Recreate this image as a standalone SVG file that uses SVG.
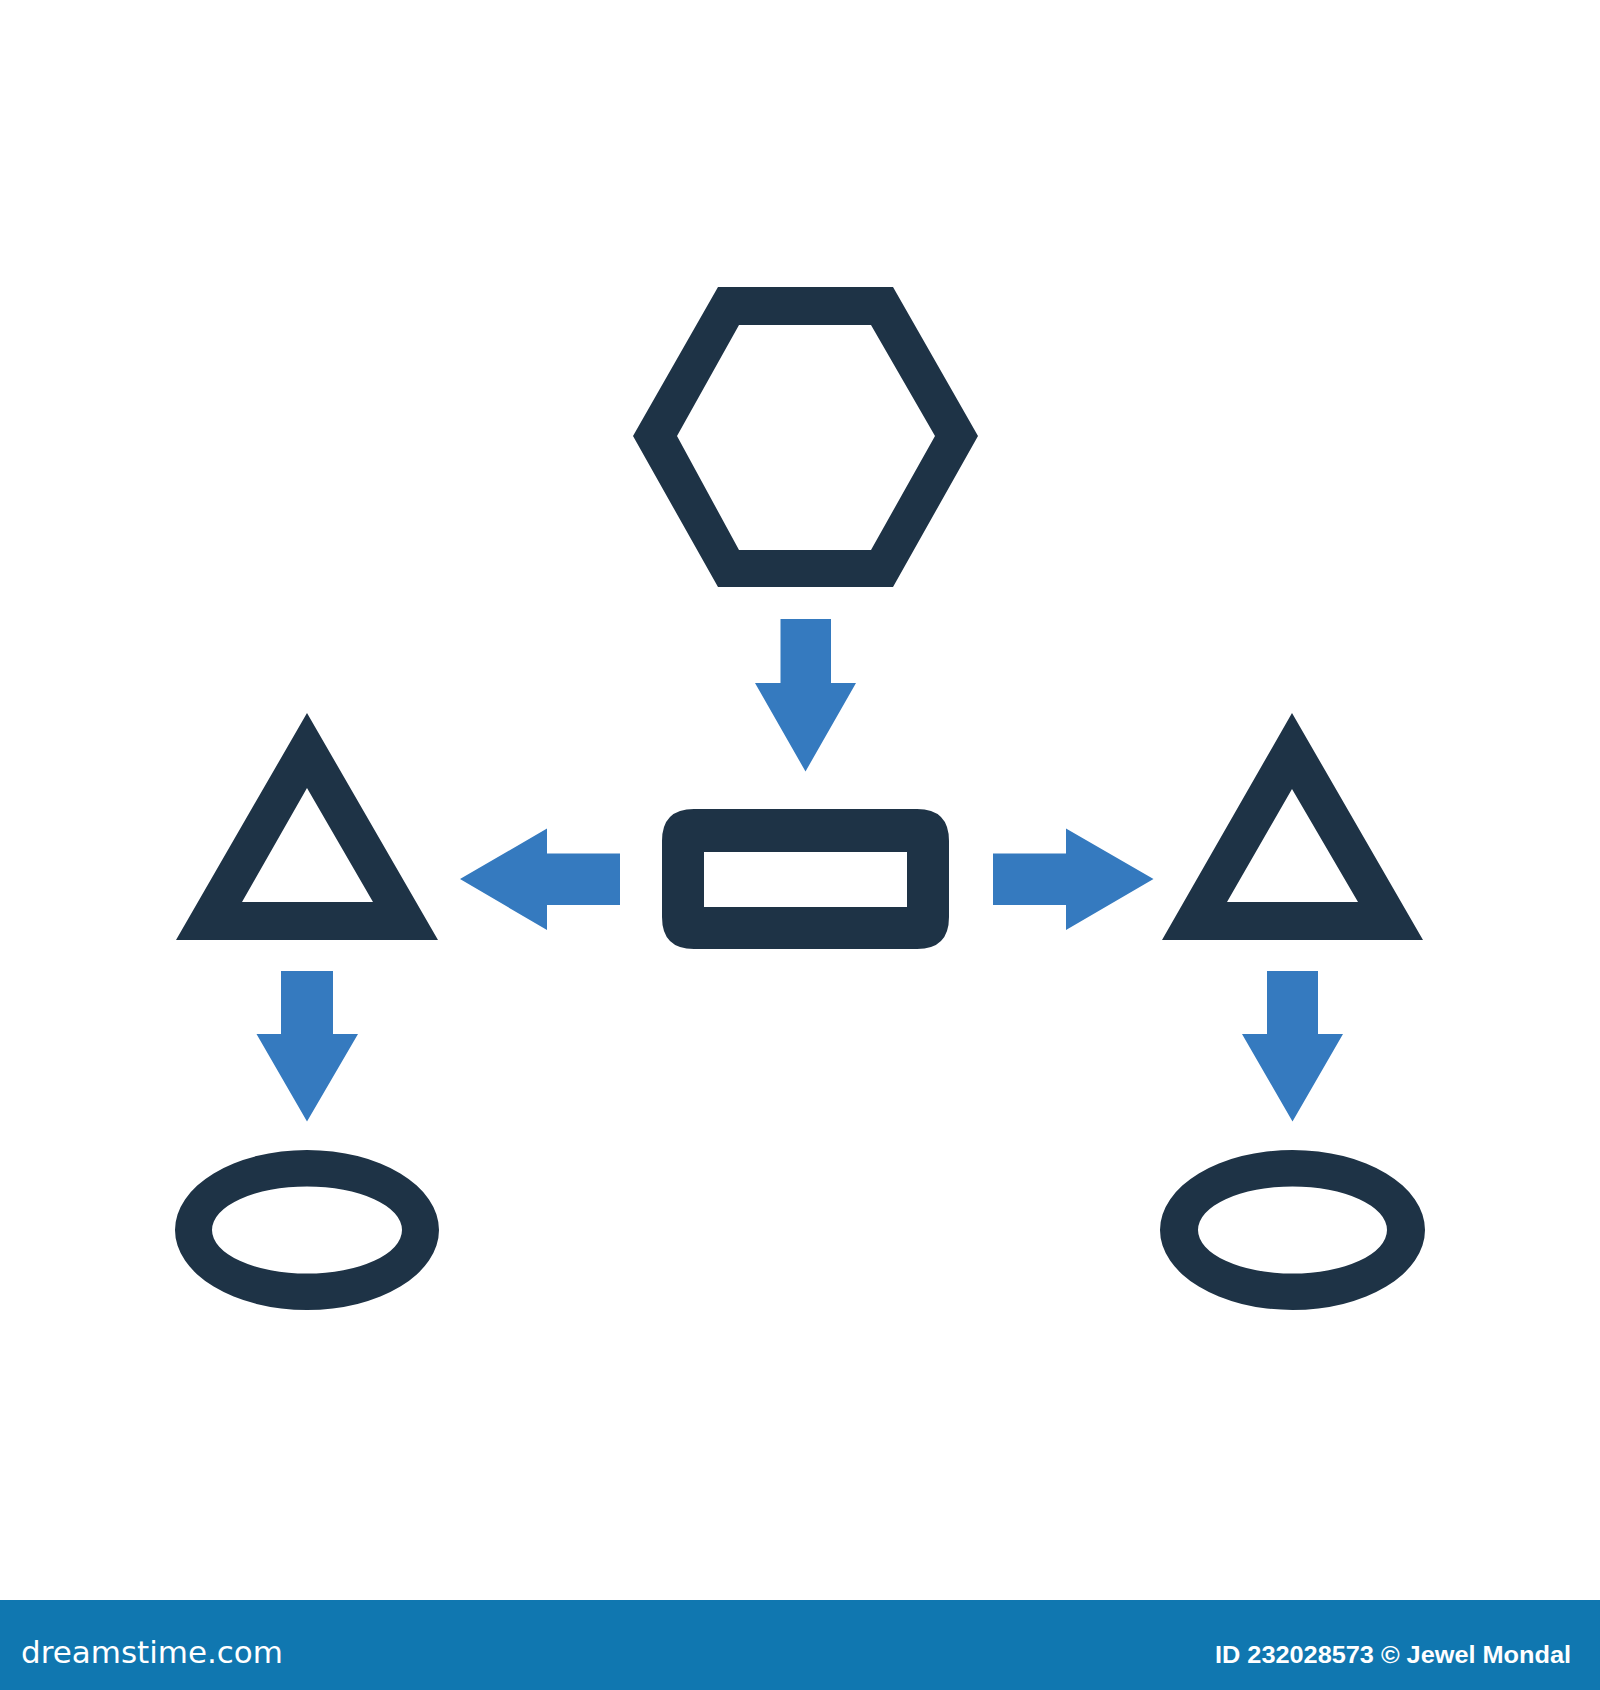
<svg xmlns="http://www.w3.org/2000/svg" width="1600" height="1690" viewBox="0 0 1600 1690">
<style>
.shape{fill:#1e3346;fill-rule:evenodd}
.arrow{fill:#357abf}
.bar{fill:#1077b0}
.logo{font-family:"DejaVu Sans","Liberation Sans",sans-serif;fill:#ffffff;font-size:30px}
.credit{font-family:"Liberation Sans",Arial,sans-serif;font-weight:bold;fill:#ffffff;font-size:24px}
</style>
<rect width="1600" height="1690" fill="#ffffff"/>
<g id="node-hexagon">
<path class="shape" d="M718,287 L893,287 L978,436 L893,587 L718,587 L633,436 Z M739,325 L871,325 L935,436 L871,550 L739,550 L677,436 Z"/>
</g>
<g id="node-process">
<path class="shape" d="M694,809 L917,809 Q949,809 949,841 L949,917 Q949,949 917,949 L694,949 Q662,949 662,917 L662,841 Q662,809 694,809 Z M704,852 L704,907 L907,907 L907,852 Z"/>
</g>
<g id="node-triangle-left">
<path class="shape" d="M307,713 L438,940 L176,940 Z M307,788 L242,902 L373,902 Z"/>
</g>
<g id="node-triangle-right">
<path class="shape" d="M1292,713 L1423,940 L1162,940 Z M1292,789 L1227,902 L1358,902 Z"/>
</g>
<g id="node-ellipse-left">
<path class="shape" d="M175,1230 A132,80 0 1,0 439,1230 A132,80 0 1,0 175,1230 Z M212,1230 A95,43.5 0 1,1 402,1230 A95,43.5 0 1,1 212,1230 Z"/>
</g>
<g id="node-ellipse-right">
<path class="shape" d="M1160,1230 A132.5,80 0 1,0 1425,1230 A132.5,80 0 1,0 1160,1230 Z M1198,1230 A94.5,43.5 0 1,1 1387,1230 A94.5,43.5 0 1,1 1198,1230 Z"/>
</g>
<g id="connectors">
<polygon class="arrow" points="780.5,619 831,619 831,683 856,683 805.5,771.5 755,683 780.5,683"/>
<polygon class="arrow" points="620,853.5 620,905 547,905 547,930 460,879 547,828.5 547,853.5"/>
<polygon class="arrow" points="993,853.5 993,905 1066,905 1066,930 1153.5,879 1066,828.5 1066,853.5"/>
<polygon class="arrow" points="281,971 333,971 333,1034 358,1034 307,1121.5 256.5,1034 281,1034"/>
<polygon class="arrow" points="1267,971 1318,971 1318,1034 1343,1034 1292.5,1121.5 1242,1034 1267,1034"/>
</g>
<g id="footer">
<rect class="bar" x="0" y="1600" width="1600" height="90"/>
<text class="logo" x="21" y="1663" textLength="262" lengthAdjust="spacingAndGlyphs">dreamstime.com</text>
<text class="credit" x="1215" y="1663" textLength="356" lengthAdjust="spacingAndGlyphs">ID 232028573 © Jewel Mondal</text>
</g>
</svg>
